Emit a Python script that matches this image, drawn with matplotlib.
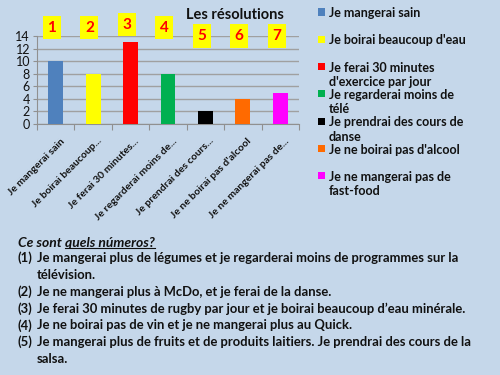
import numpy as np
import matplotlib
matplotlib.use("Agg")
import matplotlib.pyplot as plt
from matplotlib.patches import Rectangle
from matplotlib.lines import Line2D

# data
categories = ["Je mangerai sain", "Je boirai beaucoup d'eau", "Je ferai 30 minutes\nd'exercice par jour",
              "Je regarderai moins de\ntélé", "Je prendrai des cours de\ndanse", "Je ne boirai pas d'alcool",
              "Je ne mangerai pas de\nfast-food"]
tick_labels = ["Je mangerai sain", "Je boirai beaucoup...", "Je ferai 30 minutes...", "Je regarderai moins de...",
               "Je prendrai des cours...", "Je ne boirai pas d'alcool", "Je ne mangerai pas de..."]
values = [10, 8, 13, 8, 2, 4, 5]
numbers = ["1", "2", "3", "4", "5", "6", "7"]
colors = ["#4f81bd", "#ffff00", "#ff0000", "#00b050", "#000000", "#ff6a00", "#ff00ff"]
yticks = [0, 2, 4, 6, 8, 10, 12, 14]

question = ["(1)", "Je mangerai plus de légumes et je regarderai moins de programmes sur la\ntélévision.",
            "(2)", "Je ne mangerai plus à McDo, et je ferai de la danse.",
            "(3)", "Je ferai 30 minutes de rugby par jour et je boirai beaucoup d’eau minérale.",
            "(4)", "Je ne boirai pas de vin et je ne mangerai plus au Quick.",
            "(5)", "Je mangerai plus de fruits et de produits laitiers. Je prendrai des cours de la\nsalsa."]

bg = "#c5d7ea"
txt = "#111111"
plt.rcParams['font.family'] = ['Lato', 'DejaVu Sans']

fig = plt.figure(figsize=(5, 3.75), dpi=100, facecolor=bg)
W, H = 500, 375
ax = fig.add_axes([37 / W, 1 - 124 / H, 262 / W, 88 / H])
ax.set_facecolor(bg)

x = np.arange(len(values))
ax.bar(x, values, width=0.4, color=colors, zorder=3)
ax.set_xlim(-0.5, len(values) - 0.5)
ax.set_ylim(0, 14)
ax.set_yticks(yticks)
ax.yaxis.grid(True, color="#a0a0a0", linewidth=1, zorder=0)
for s in ["top", "right"]:
    ax.spines[s].set_visible(False)
for s in ["left", "bottom"]:
    ax.spines[s].set_color("#909090")
ax.tick_params(axis="y", labelsize=9, colors="#909090", labelcolor=txt, length=3, pad=2)
ax.set_xticks(np.arange(-0.5, len(values), 1))
ax.set_xticklabels([])
ax.tick_params(axis="x", colors="#909090", length=4)
for i, lab in enumerate(tick_labels):
    ax.annotate(lab, (i, 0), xytext=(3, -9), textcoords="offset points", rotation=45,
                ha="right", va="top", rotation_mode="anchor", fontsize=7.5, fontweight="bold", color=txt)

# number boxes
label_y = [15.3, 15.3, 15.8, 15.3, 14.0, 14.0, 14.0]
for i, n in enumerate(numbers):
    ax.text(i - 0.1, label_y[i], n, ha="center", va="center", color="red", fontsize=11, fontweight="bold",
            bbox=dict(boxstyle="square,pad=0.3", fc="yellow", ec="none"), clip_on=False, zorder=5)

fig.text(235 / W, 1 - 15 / H, "Les résolutions", ha="center", va="center", fontsize=10.5,
         fontweight="bold", color=txt)

# legend
y0, step = 12, 27.3
for i, (c, lab) in enumerate(zip(colors, categories)):
    yy = y0 + i * step
    fig.patches.append(Rectangle((318 / W, 1 - (yy + 3.5) / H), 7 / W, 7 / H, transform=fig.transFigure,
                                 fc=c, ec="none"))
    fig.text(329 / W, 1 - (yy - 5) / H, lab, ha="left", va="top", fontsize=9, fontweight="bold", color=txt,
             linespacing=1.25, transform=fig.transFigure)

# question text
renderer = fig.canvas.get_renderer()
t1 = fig.text(18 / W, 1 - 243 / H, "Ce sont ", ha="left", va="center", fontsize=10, fontweight="bold",
              style="italic", color=txt)
bb = t1.get_window_extent(renderer)
t2 = fig.text(bb.x1 / W, 1 - 243 / H, "quels números?", ha="left", va="center", fontsize=10,
              fontweight="bold", style="italic", color=txt)
bb2 = t2.get_window_extent(renderer)
fig.add_artist(Line2D([bb2.x0 / W, bb2.x1 / W], [(bb2.y0 + 1) / H, (bb2.y0 + 1) / H],
                      color=txt, linewidth=0.8, transform=fig.transFigure))

line_y = 258
lstep = 16.8
for k in range(0, len(question), 2):
    fig.text(18 / W, 1 - line_y / H, question[k], ha="left", va="center", fontsize=9.4, fontweight="bold", color=txt)
    body = question[k + 1].split("\n")
    for part in body:
        fig.text(37 / W, 1 - line_y / H, part, ha="left", va="center", fontsize=9.4, fontweight="bold", color=txt)
        line_y += lstep

fig.savefig("out.png", dpi=100, facecolor=bg)
